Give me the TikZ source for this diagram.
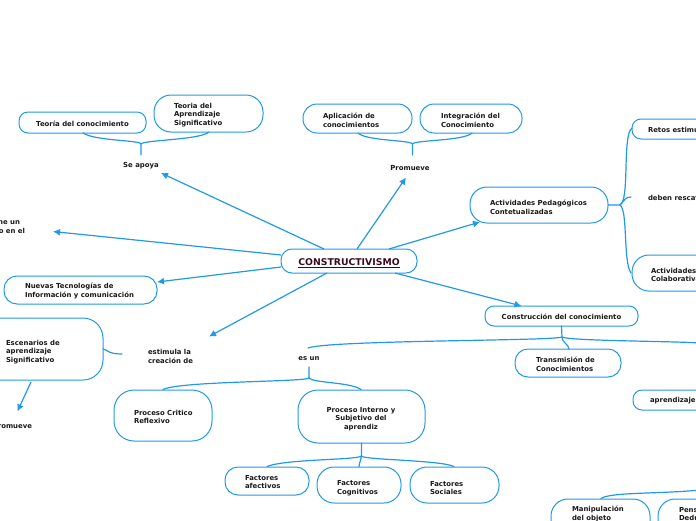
\documentclass[tikz,border=0pt]{standalone}
\usepackage{fontspec}
\setmainfont{DejaVu Sans}
\usetikzlibrary{arrows.meta}
\definecolor{mapblue}{HTML}{2299E6}
\definecolor{rootink}{HTML}{3A0A1E}
\tikzset{
  x=1pt,y=-1pt,
  every node/.style={font=\fontsize{6.9}{8.8}\selectfont\bfseries,text=black!90,inner sep=0pt,outer sep=0pt,yshift=-1pt},
  bx/.style={draw=mapblue,line width=1pt,fill=white,rounded corners=#1,anchor=north west},
  bx/.default=10pt,
  lab/.style={align=left,anchor=center},
  arr/.style={draw=mapblue,line width=1.2pt,-{Latex[length=7pt,width=7pt]}},
  link/.style={draw=mapblue,line width=1.2pt,line cap=round},
}
\newcommand{\rbox}[6]{% name,x0,y0,x1,y1,radius
  \path[bx=#6pt] (#2,#3) rectangle (#4,#5);
  \node (#1) at ({(#2+#4)/2},{(#3+#5)/2-1}) [minimum width={(#4-#2)*1pt},minimum height={(#5-#3)*1pt}] {};
}
\begin{document}
\begin{tikzpicture}
\useasboundingbox (0,0) rectangle (696,520);
\clip (0,0) rectangle (696,520);
% boxes
\rbox{teoc}{19}{112}{146}{133}{9}
\rbox{teoa}{154}{95}{263}{132}{17}
\rbox{aplic}{303}{104}{412}{133}{14}
\rbox{integ}{420}{104}{522}{133}{14}
\rbox{root}{281}{249}{417}{273}{11}
\rbox{activ}{470}{187}{608}{223}{17}
\rbox{retos}{632}{119}{760}{139}{9}
\rbox{colab}{632}{255}{760}{291}{17}
\rbox{constr}{485}{306}{638}{326}{9}
\rbox{trans}{515}{349}{621}{377}{13}
\rbox{aprend}{633}{390}{760}{410}{9}
\rbox{manip}{551}{499}{650}{540}{17}
\rbox{pens}{658}{499}{760}{540}{17}
\rbox{nuevas}{4}{276}{157}{304}{13}
\rbox{escen}{-40}{318}{103}{380}{20}
\rbox{pcrit}{114}{390}{212}{441}{20}
\rbox{pint}{298}{390}{425}{443}{20}
\rbox{fafec}{225}{467}{309}{495}{13}
\rbox{fcog}{317}{467}{401}{503}{17}
\rbox{fsoc}{410}{467}{499}{503}{17}
% texts in boxes
\node[anchor=center] at (teoc) {Teoría del conocimiento};
\node[lab,anchor=west] at (174,114) {Teoria del\\Aprendizaje\\Significativo};
\node[lab,anchor=west] at (323,119) {Aplicación de\\conocimientos};
\node[lab,anchor=west] at (441,119) {Integración del\\Conocimiento};
\node[anchor=center,font=\fontsize{9.3}{10}\selectfont\bfseries,text=rootink] at (349,262) {\underline{CONSTRUCTIVISMO}};
\node[lab,anchor=west] at (490,206) {Actividades Pedagógicos\\Contetualizadas};
\node[lab,anchor=west] at (648,129) {Retos estimulantes};
\node[lab,anchor=west] at (651,274) {Actividades\\Colaborativas};
\node[anchor=center] at (constr) {Construcción del conocimiento};
\node[lab,anchor=west] at (536,363.5) {Transmisión de\\Conocimientos};
\node[lab,anchor=west] at (650,400) {aprendizaje};
\node[lab,anchor=west] at (572,513) {Manipulación\\del objeto};
\node[lab,anchor=west] at (679,513) {Pensamiento\\Deductivo};
\node[lab,anchor=west] at (25,290) {Nuevas Tecnologías de\\Información y comunicación};
\node[lab,anchor=west] at (6,351) {Escenarios de\\aprendizaje\\Significativo};
\node[lab,anchor=west] at (134,416) {Proceso Critico\\Reflexivo};
\node[align=center] at (361,418) {Proceso Interno y\\Subjetivo del\\aprendiz};
\node[lab,anchor=west] at (245,481) {Factores\\afectivos};
\node[lab,anchor=west] at (337,487) {Factores\\Cognitivos};
\node[lab,anchor=west] at (430,487) {Factores\\Sociales};
% free labels
\node (seapoya) at (141,165) {Se apoya};
\node (prom) at (410,167.5) {Promueve};
\node[lab,anchor=east,align=right] (tiene) at (25,226.5) {ne un\hspace{5pt}\mbox{}\\o en el};
\node[lab] (estim) at (170.5,355.5) {estimula la\\creación de};
\node (esun) at (309,358) {es un};
\node[anchor=east] (prom2) at (32,425) {Promueve};
\node[lab,anchor=west] (deben) at (648,197) {deben rescatar};
% arrows
\path[arr] ([shift={(-25,0)}]root.north) -- ([shift={(20,7)}]seapoya.center);
\path[arr] ([shift={(-68,-6)}]root.center) -- ([shift={(28,4)}]tiene.east);
\path[arr] ([shift={(0,6)}]root.west) -- ([shift={(0,-8)}]nuevas.east);
\path[arr] ([shift={(-22,0)}]root.south) -- ([shift={(38.5,-20)}]estim.center);
\path[arr] ([shift={(8,0)}]root.north) -- ([shift={(-4,9)}]prom.center);
\path[arr] ([shift={(40,0)}]root.north) -- ([shift={(10,-1)}]activ.south west);
\path[arr] ([shift={(46,0)}]root.south) -- ([shift={(-40,0)}]constr.north);
\path[arr] ([shift={(-72,2)}]escen.south east) -- ([shift={(5,-12)}]prom2.north);
% branches
\path[link] (141,155) -- (141,144) .. controls (140,140) and (95,141) .. (83,133);
\path[link] (141,144) .. controls (143,140) and (200,140) .. (209,132);
\path[link] (412.5,155) -- (412.5,144) .. controls (411,140) and (366,141) .. (358,133);
\path[link] (412.5,144) .. controls (414,140) and (464,141) .. (472,133);
\path[link] (activ.east) -- (620,205) .. controls (630,200) and (622,135) .. (632,128);
\path[link] (620,205) .. controls (628,210) and (623,262) .. (631,273);
\path[link] (620,205) .. controls (625,200) and (625,197) .. (631,197);
\path[link] (constr.south) -- (562,337) .. controls (555,341) and (330,340) .. (308,348);
\path[link] (562,337) .. controls (570,341) and (670,341) .. (700,343);
\path[link] (562,337) .. controls (563,344) and (568,343) .. (569,349);
\path[link] (309,367) -- (309,378) .. controls (305,382) and (180,381) .. (163,389.5);
\path[link] (309,378) .. controls (313,383) and (350,382) .. (361,389.5);
\path[link] (pint.south) -- (361.5,456) .. controls (358,460) and (285,459) .. (267,466.5);
\path[link] (361.5,456) .. controls (361,460) and (360,460) .. (359,466.5);
\path[link] (361.5,456) .. controls (364,460) and (440,460) .. (454,466.5);
\path[link] (escen.east) .. controls (108,350) and (108,354) .. (122,354);
\path[link] (700,490) .. controls (660,494) and (610,492) .. (601,498.5);
\end{tikzpicture}
\end{document}
